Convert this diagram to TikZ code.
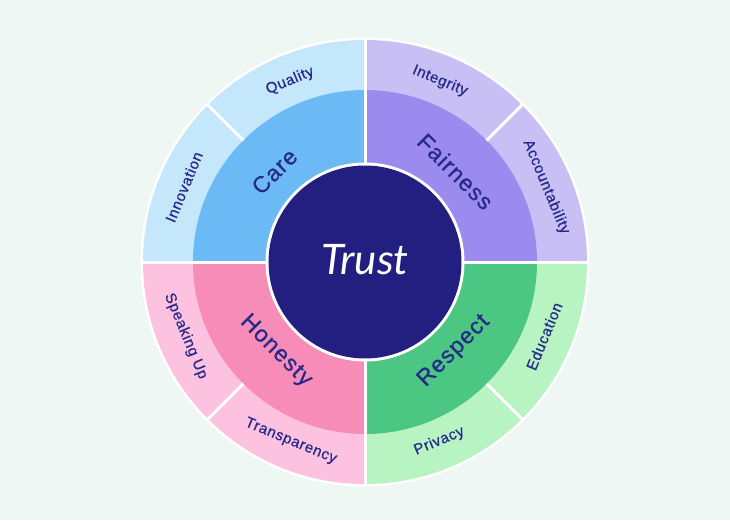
\documentclass[tikz,border=0pt]{standalone}
\usepackage{fontspec}
\setmainfont{Liberation Sans}
\newfontfamily\outerfont{Liberation Sans}[LetterSpace=4, FakeBold=0.8]
\newfontfamily\innerfont{Liberation Sans}[LetterSpace=5, FakeBold=0.8]
\newfontfamily\trustfont{Lato}
\definecolor{bg}{HTML}{EEF7F4}
\definecolor{careD}{HTML}{6CBAF5}
\definecolor{careL}{HTML}{C5E7FC}
\definecolor{fairD}{HTML}{9B8BEE}
\definecolor{fairL}{HTML}{C8BFF5}
\definecolor{honD}{HTML}{F78CB8}
\definecolor{honL}{HTML}{FDC2DF}
\definecolor{resD}{HTML}{4CC783}
\definecolor{resL}{HTML}{B8F4C2}
\definecolor{navy}{HTML}{221F80}
\definecolor{txt}{HTML}{272A8A}
\tikzset{
  outerlbl/.style={font=\outerfont\fontsize{15pt}{17pt}\selectfont, text=txt, inner sep=0pt},
  innerlbl/.style={font=\innerfont\fontsize{23pt}{25pt}\selectfont, text=txt, inner sep=0pt},
  gap/.style={draw=white, line width=3pt}
}
\begin{document}
\begin{tikzpicture}[x=1pt,y=1pt]
\useasboundingbox (-365,-258) rectangle (365,262);
\fill[bg] (-365,-258) rectangle (365,262);
% outer white rim
\fill[white] (0,0) circle (224.5);
% outer light sectors
\fill[fairL] (0,0) -- (0:222) arc[start angle=0, end angle=90, radius=222] -- cycle;
\fill[careL] (0,0) -- (90:222) arc[start angle=90, end angle=180, radius=222] -- cycle;
\fill[honL] (0,0) -- (180:222) arc[start angle=180, end angle=270, radius=222] -- cycle;
\fill[resL] (0,0) -- (270:222) arc[start angle=270, end angle=360, radius=222] -- cycle;
% inner dark sectors
\fill[fairD] (0,0) -- (0:172) arc[start angle=0, end angle=90, radius=172] -- cycle;
\fill[careD] (0,0) -- (90:172) arc[start angle=90, end angle=180, radius=172] -- cycle;
\fill[honD] (0,0) -- (180:172) arc[start angle=180, end angle=270, radius=172] -- cycle;
\fill[resD] (0,0) -- (270:172) arc[start angle=270, end angle=360, radius=172] -- cycle;
% separators
\draw[gap] (-223,0) -- (223,0);
\draw[gap] (0,-223) -- (0,223);
\foreach \a in {45,135,225,315} {\draw[gap] (\a:172) -- (\a:223);}
% centre
\fill[white] (0,0) circle (99.5);
\node[circle, fill=navy, minimum size=193pt, inner sep=0pt] (trust) at (0,0) {};
\node[text=white, font=\trustfont\itshape\fontsize{42pt}{46pt}\selectfont] (trustlbl) at (0,2) {Trust};
% inner labels
\node[innerlbl, rotate=45] (care) at (135:128) {Care};
\node[innerlbl, rotate=-45] (fairness) at (45:128) {Fairness};
\node[innerlbl, rotate=-45] (honesty) at (225:126) {Honesty};
\node[innerlbl, rotate=45] (respect) at (315:126) {Respect};
% outer labels
\node[outerlbl, rotate=22.5] (quality) at (112.5:196) {Quality};
\node[outerlbl, rotate=67.5] (innovation) at (157.5:196) {Innovation};
\node[outerlbl, rotate=-22.5] (integrity) at (67.5:196) {Integrity};
\node[outerlbl, rotate=-67.5] (accountability) at (22.5:196) {Accountability};
\node[outerlbl, rotate=-67.5] (speaking) at (202.5:194) {Speaking Up};
\node[outerlbl, rotate=-22.5] (transparency) at (247.5:194) {Transparency};
\node[outerlbl, rotate=22.5] (privacy) at (292.5:194) {Privacy};
\node[outerlbl, rotate=67.5] (education) at (337.5:194) {Education};
\end{tikzpicture}
\end{document}
